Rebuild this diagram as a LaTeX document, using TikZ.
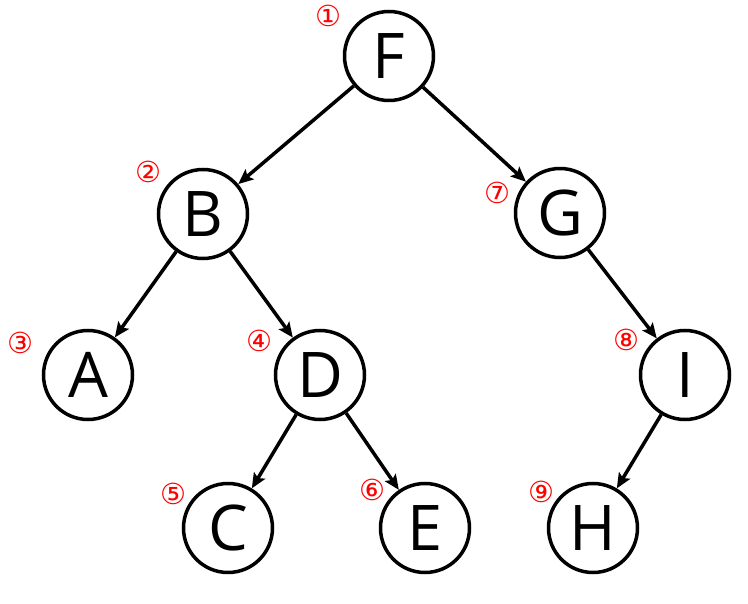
\documentclass[tikz,border=0pt]{standalone}
\usepackage{fontspec}
\setsansfont{Open Sans}
\newfontfamily\ordfont{DejaVu Sans}
\usetikzlibrary{arrows.meta}
\definecolor{treeInk}{HTML}{000000}
\definecolor{treeOrder}{HTML}{FF0000}
\tikzset{
  treeNode/.style={
    circle,
    draw=treeInk,
    line width=3.5pt,
    minimum size=89pt,
    inner sep=0pt,
    fill=white,
    font=\sffamily\fontsize{63}{63}\selectfont
  },
  treeArrow/.style={
    -{Stealth[length=15pt,width=13pt,inset=3pt]},
    line width=3.5pt,
    draw=treeInk
  },
  treeLabel/.style={
    text=treeOrder,
    inner sep=0pt,
    font=\ordfont\fontsize{29}{29}\selectfont
  }
}

\begin{document}
\begin{tikzpicture}[x=1pt,y=-1pt]
\useasboundingbox (0,0) rectangle (748,604);

% Tree nodes.
\node[treeNode] (F) at (389,56) {F};
\node[treeNode] (B) at (203,214) {B};
\node[treeNode] (G) at (560,213) {G};
\node[treeNode] (A) at (88,375) {A};
\node[treeNode] (D) at (320,375) {D};
\node[treeNode] (I) at (685,375) {I};
\node[treeNode] (C) at (228,528) {C};
\node[treeNode] (E) at (425,528) {E};
\node[treeNode] (H) at (593,528) {H};

% Edges.
\draw[treeArrow] (F) -- (B);
\draw[treeArrow] (F) -- (G);
\draw[treeArrow] (B) -- (A);
\draw[treeArrow] (B) -- (D);
\draw[treeArrow] (D) -- (C);
\draw[treeArrow] (D) -- (E);
\draw[treeArrow] (G) -- (I);
\draw[treeArrow] (I) -- (H);

% Visiting order.
\node[treeLabel] (nF) at (328,16) {①};
\node[treeLabel] (nB) at (148,172) {②};
\node[treeLabel] (nA) at (20,343) {③};
\node[treeLabel] (nD) at (259,341) {④};
\node[treeLabel] (nC) at (173,494) {⑤};
\node[treeLabel] (nE) at (372,490) {⑥};
\node[treeLabel] (nG) at (497,193) {⑦};
\node[treeLabel] (nI) at (626,340) {⑧};
\node[treeLabel] (nH) at (541,492) {⑨};

\end{tikzpicture}
\end{document}
